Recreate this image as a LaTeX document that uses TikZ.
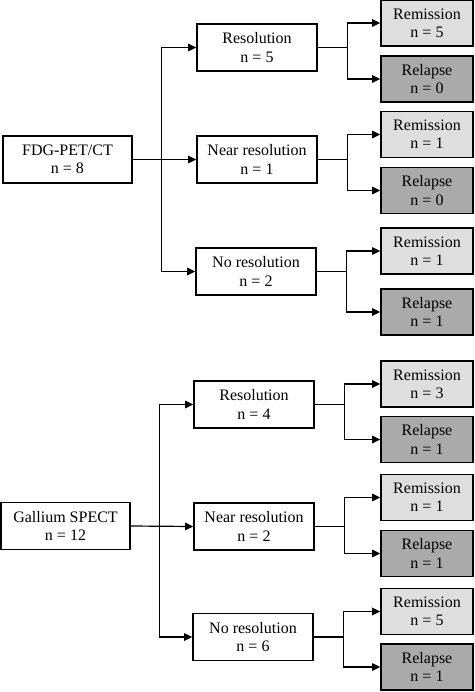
\documentclass[tikz,border=0pt]{standalone}
\usepackage{fontspec}
\setmainfont{Liberation Serif}
\usetikzlibrary{positioning,arrows.meta}
\definecolor{remfill}{RGB}{222,222,222}
\definecolor{relfill}{RGB}{170,170,170}
\newcommand{\BranchGap}{30pt}
\newcommand{\TrunkGap}{29pt}
\tikzset{
	stage/.style={draw, line width=1.7pt, minimum width=120pt, minimum height=47pt, align=center, inner sep=1pt, font=\fontsize{16}{18.3}\selectfont},
	root/.style={stage, minimum width=129pt},
	remit/.style={stage, minimum width=92pt, minimum height=46pt, fill=remfill},
	relap/.style={remit, fill=relfill},
	link/.style={line width=1.2pt},
	flow/.style={link, -{Triangle[length=8pt,width=7.5pt]}},
}

\begin{document}
\begin{tikzpicture}[x=1pt, y=-1pt]
		\useasboundingbox (0,0) rectangle (474,692);

		% FDG-PET/CT
		\node[root] (fdg) at (67.5,159.5) {FDG-PET/CT\\n = 8};
		\node[stage] (fres) at (257,47.5) {Resolution\\n = 5};
		\node[stage] (fnear) at (257,159.5) {Near resolution\\n = 1};
		\node[stage] (fno) at (256,271.5) {No resolution\\n = 2};
		\node[remit] (frem1) at (427,23) {Remission\\n = 5};
		\node[relap] (frel1) at (427,79) {Relapse\\n = 0};
		\node[remit] (frem2) at (427,134.5) {Remission\\n = 1};
		\node[relap] (frel2) at (427,190.5) {Relapse\\n = 0};
		\node[remit] (frem3) at (427,251) {Remission\\n = 1};
		\node[relap] (frel3) at (427,312) {Relapse\\n = 1};

		% Gallium SPECT
		\node[root] (gal) at (65.5,526) {Gallium SPECT\\n = 12};
		\node[stage] (gres) at (254,404.5) {Resolution\\n = 4};
		\node[stage] (gnear) at (254,526.5) {Near resolution\\n = 2};
		\node[stage] (gno) at (253,637) {No resolution\\n = 6};
		\node[remit] (grem1) at (427,384) {Remission\\n = 3};
		\node[relap] (grel1) at (427,439.5) {Relapse\\n = 1};
		\node[remit] (grem2) at (427,497.5) {Remission\\n = 1};
		\node[relap] (grel2) at (427,553.5) {Relapse\\n = 1};
		\node[remit] (grem3) at (427,611.5) {Remission\\n = 5};
		\node[relap] (grel3) at (427,667) {Relapse\\n = 1};

		% trunks
		\foreach \r/\a/\m/\b in {fdg/fres/fnear/fno, gal/gres/gnear/gno} {
			\coordinate[right=\TrunkGap of \r.east] (\r t);
			\draw[flow] (\r.east) -- (\m.west);
			\draw[flow] (\r t) |- (\a);
			\draw[flow] (\r t) |- (\b);
		}

		% branches
		\foreach \m/\a/\b in {fres/frem1/frel1, fnear/frem2/frel2, fno/frem3/frel3, gres/grem1/grel1, gnear/grem2/grel2, gno/grem3/grel3} {
			\coordinate[right=\BranchGap of \m.east] (\m b);
			\draw[link] (\m.east) -- (\m b);
			\draw[flow] (\m b) |- (\a);
			\draw[flow] (\m b) |- (\b);
		}
	\end{tikzpicture}
\end{document}
